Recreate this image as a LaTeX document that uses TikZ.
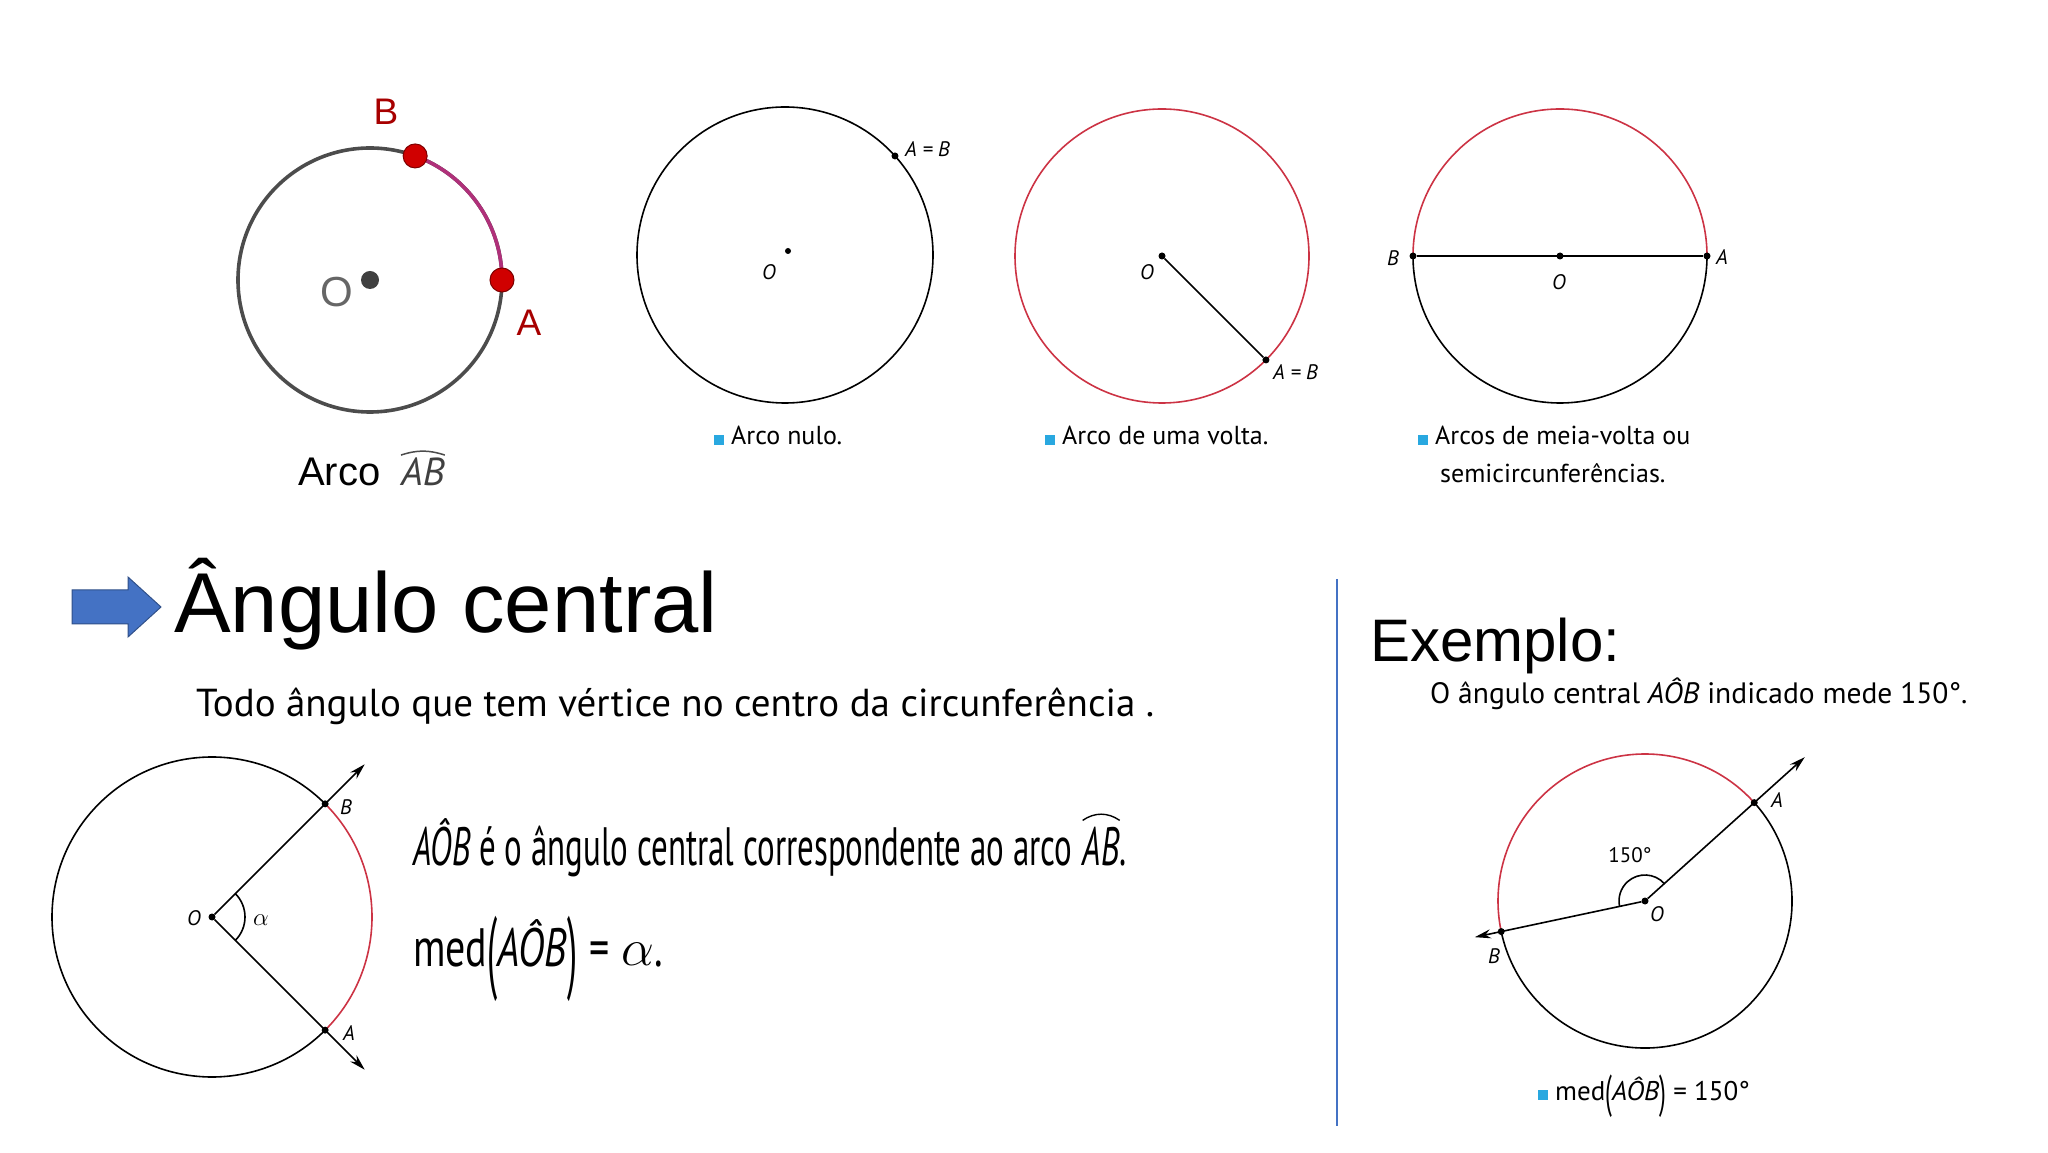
\documentclass[tikz,border=0pt]{standalone}
\usepackage{fontspec}
\setmainfont{Liberation Sans}
\newfontfamily\bookfont{PT Sans}
\newfontfamily\narrowfont{PT Sans}[FakeStretch=0.61]
\newfontfamily\medfont{PT Sans}[FakeStretch=0.74]
\usetikzlibrary{arrows.meta,positioning,calc}

\definecolor{arcred}{HTML}{CC3344}
\definecolor{arcmag}{HTML}{B0307A}
\definecolor{ptred}{HTML}{D00000}
\definecolor{headblue}{HTML}{4472C4}
\definecolor{bullet}{HTML}{29A8E0}
\newcommand{\capsq}{\textcolor{bullet}{\rule{10pt}{10pt}}\hspace{7pt}}
\newcommand{\tallpar}[1]{\raisebox{-0.28em}{\scalebox{0.9}[1.7]{#1}}}

\begin{document}
\begin{tikzpicture}[x=1pt, y=1pt,
	geo/.style={line width=1.6pt},
	redarc/.style={line width=1.6pt, draw=arcred},
	dot/.style={circle, fill=black, inner sep=0pt, minimum size=7pt},
	bigdot/.style={circle, fill=ptred, draw=ptred!60!black, line width=1pt, inner sep=0pt, minimum size=24pt},
	lbl/.style={font=\bookfont\itshape\fontsize{21}{24}\selectfont, inner sep=0pt},
	captxt/.style={font=\bookfont\fontsize{26}{34}\selectfont, inner sep=0pt, anchor=base west},
	ray/.style={geo, -{Stealth[length=16pt, width=9pt]}}]
	\useasboundingbox (0,0) rectangle (2048,1152);

	% arco AB
	\coordinate (O1) at (370,872);
	\draw[line width=3.6pt, black!70] (O1) circle (132);
	\draw[line width=3.6pt, arcmag] (O1) ++(0:132) arc (0:70:132);
	\node[bigdot] (A1) at ($(O1)+(0:132)$) {};
	\node[bigdot] (B1) at ($(O1)+(70:132)$) {};
	\node[circle, fill=black!75, inner sep=0pt, minimum size=18pt] (C1) at (O1) {};
	\node[anchor=base, text=ptred!80!black, font=\fontsize{37}{40}\selectfont] (lB1) at (386,1027) {B};
	\node[anchor=base, text=ptred!80!black, font=\fontsize{37}{40}\selectfont] (lA1) at (529,816) {A};
	\node[anchor=base, text=black!60, font=\fontsize{42}{44}\selectfont] (lO1) at (337,845) {O};
	\node[anchor=base west, inner sep=0pt, font=\fontsize{40}{44}\selectfont] (arco) at (298,666) {Arco};
	\node[anchor=base west, inner sep=0pt, text=black!75, font=\bookfont\itshape\fontsize{39}{44}\selectfont] (ab1) at (401,666) {AB};
	\draw[line width=1.5pt, black!70] ([yshift=3pt]ab1.north west) to[bend left=18] ([yshift=3pt]ab1.north east);

	% arco nulo
	\coordinate (O2) at (785,897);
	\draw[geo] (O2) circle (148);
	\node[dot] (P2) at ($(O2)+(42:148)$) {};
	\node[dot, minimum size=6pt] (C2) at ([shift={(3,4)}]O2) {};
	\node[lbl, anchor=west] (lP2) at (905,1003) {A = B};
	\node[lbl] (lO2) at (769,880) {O};
	\node[captxt] (cap2) at (714,707) {\capsq Arco nulo.};

	% arco de uma volta
	\coordinate (O3) at (1162,896);
	\draw[redarc] (O3) circle (147);
	\node[dot] (P3) at ($(O3)+(-45:147)$) {};
	\node[dot] (C3) at (O3) {};
	\draw[geo] (C3) -- (P3);
	\node[lbl, anchor=west] (lP3) at (1273,780) {A = B};
	\node[lbl] (lO3) at (1147,880) {O};
	\node[captxt] (cap3) at (1045,707) {\capsq Arco de uma volta.};

	% meia-volta
	\coordinate (O4) at (1560,896);
	\draw[geo] (O4) ++(180:147) arc (180:360:147);
	\draw[redarc] (O4) ++(0:147) arc (0:180:147);
	\node[dot] (A4) at ($(O4)+(0:147)$) {};
	\node[dot] (B4) at ($(O4)+(180:147)$) {};
	\node[dot] (C4) at (O4) {};
	\draw[geo] (B4) -- (A4);
	\node[lbl] (lB4) at (1393,894) {B};
	\node[lbl] (lA4) at (1722,895) {A};
	\node[lbl] (lO4) at (1559,870) {O};
	\node[captxt] (cap4) at (1418,707) {\capsq Arcos de meia-volta ou};
	\node[captxt] (cap4b) at (1440,669) {semicircunferências.};

	% titulo
	\fill[headblue, draw=headblue!70!black, line width=1pt] (72,528) -- (128,528) -- (128,515) -- (161,545) -- (128,575) -- (128,562) -- (72,562) -- cycle;
	\node[anchor=base west, inner sep=0pt, font=\fontsize{85}{90}\selectfont] (title) at (174,519) {Ângulo central};
	\node[anchor=base west, inner sep=0pt, font=\bookfont\fontsize{39}{44}\selectfont] (def) at (196,435) {Todo ângulo que tem vértice no centro da circunferência .};

	% angulo central
	\coordinate (O5) at (212,235);
	\draw[geo] (O5) ++(45:160) arc (45:315:160);
	\draw[redarc] (O5) ++(-45:160) arc (-45:45:160);
	\node[dot] (C5) at (O5) {};
	\node[dot] (B5) at ($(O5)+(45:160)$) {};
	\node[dot] (A5) at ($(O5)+(-45:160)$) {};
	\coordinate (tB5) at ($(O5)+(45:216)$);
	\coordinate (tA5) at ($(O5)+(-45:216)$);
	\draw[ray] (C5) -- (tB5);
	\draw[ray] (C5) -- (tA5);
	\draw[geo] (O5) ++(-45:33) arc (-45:45:33);
	\node[inner sep=0pt, font=\fontsize{24}{26}\selectfont] (alpha5) at (261,232) {$\alpha$};
	\node[lbl] (lO5) at (194,234) {O};
	\node[lbl] (lB5) at (346,345) {B};
	\node[lbl] (lA5) at (349,119) {A};
	\node[anchor=base west, inner sep=0pt, font=\narrowfont\fontsize{54}{60}\selectfont] (txt1) at (413,287) {\textit{AÔB} é o ângulo central correspondente ao arco};
	\node[anchor=base west, inner sep=0pt, font=\narrowfont\itshape\fontsize{54}{60}\selectfont] (ab5) at ([xshift=10pt]txt1.base east) {AB};
	\node[anchor=base west, inner sep=0pt, font=\narrowfont\fontsize{54}{60}\selectfont] (dot5) at (ab5.base east) {.};
	\draw[line width=1.4pt] ([yshift=6pt]ab5.north west) to[bend left=35] ([yshift=6pt]ab5.north east);
	\node[anchor=base west, inner sep=0pt, font=\medfont\fontsize{54}{60}\selectfont] (med5) at (413,186) {med\tallpar{(}\textit{AÔB}\tallpar{)}\hspace{12pt}=\hspace{12pt}\scalebox{2.1}{$\alpha$}.};

	% separador
	\draw[headblue, line width=1.5pt] (1337,573) -- (1337,26);

	% exemplo
	\node[anchor=base west, inner sep=0pt, font=\fontsize{60}{66}\selectfont] (ex) at (1370,490) {Exemplo:};
	\node[anchor=base west, inner sep=0pt, font=\bookfont\fontsize{29.5}{34}\selectfont] (ex1) at (1430,448) {O ângulo central \textit{AÔB} indicado mede 150°.};
	\coordinate (O6) at (1645,251);
	\draw[geo] (O6) ++(192:147) arc (192:402:147);
	\draw[redarc] (O6) ++(42:147) arc (42:192:147);
	\node[dot] (C6) at (O6) {};
	\node[dot] (A6) at ($(O6)+(42:147)$) {};
	\node[dot] (B6) at ($(O6)+(192:147)$) {};
	\coordinate (tA6) at ($(O6)+(42:215)$);
	\coordinate (tB6) at ($(O6)+(192:174)$);
	\draw[ray] (C6) -- (tA6);
	\draw[ray] (C6) -- (tB6);
	\draw[geo] (O6) ++(42:26) arc (42:192:26);
	\node[inner sep=0pt, font=\bookfont\fontsize{21}{24}\selectfont] (ang6) at (1630,297) {150°};
	\node[lbl] (lA6) at (1777,352) {A};
	\node[lbl] (lB6) at (1494,196) {B};
	\node[lbl] (lO6) at (1657,238) {O};
	\node[captxt, font=\bookfont\fontsize{27}{32}\selectfont] (cap6) at (1538,52) {\capsq med\tallpar{(}\textit{AÔB}\tallpar{)} = 150°};
\end{tikzpicture}
\end{document}
